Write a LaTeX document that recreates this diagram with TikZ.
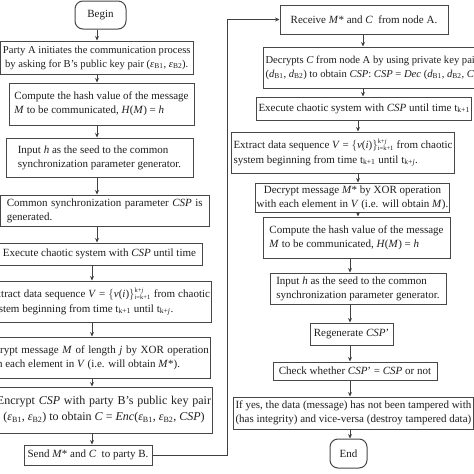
\documentclass[tikz,border=0pt]{standalone}
\usepackage{fontspec}
\setmainfont{Liberation Serif}
\usetikzlibrary{arrows.meta}
\newcommand{\sbs}[1]{\textsubscript{#1}}
\newcommand{\eps}[1]{\textit{ε}\textsubscript{#1}}
\newcommand{\scr}[1]{\mbox{\fontsize{6.5}{6.5}\selectfont #1}}
\newcommand{\vseq}{$\{\mbox{\textit{v}(\textit{i})}\}_{\scr{i=k+1}}^{\scr{k+\textit{j}}}$}
\begin{document}
\begin{tikzpicture}[x=1pt,y=-1pt,
  every node/.style={font=\fontsize{11}{14}\selectfont, text=black!88},
  box/.style={draw=black!72, line width=1pt, inner xsep=1.5pt, inner ysep=0pt, align=center},
  rbox/.style={box, rounded corners=8pt},
  arr/.style={draw=black!75, line width=0.9pt, -{Stealth[length=4.5pt,width=4pt]}}]
\useasboundingbox (0,0) rectangle (474,474);
\clip (0,0) rectangle (474,474);
\fill[white] (0,0) rectangle (474,474);
% left column
\node[rbox, minimum width=51pt, minimum height=28pt] (begin) at (100.5,15) {Begin};
\node[box, minimum width=192.5pt, minimum height=33pt, font=\fontsize{10.6}{14}\selectfont] (b1) at (96.75,57.5)
  {Party A initiates the communication process\\by asking for B's public key pair (\eps{B1}, \eps{B2}).};
\node[box, minimum width=185pt, minimum height=42pt, align=left] (b2) at (101.5,104)
  {Compute the hash value of the message\\\textit{M} to be communicated, \textit{H}(\textit{M}) = \textit{h}};
\node[box, minimum width=187pt, minimum height=39pt, align=left] (b3) at (99.5,157.5)
  {Input \textit{h} as the seed to the common\\synchronization parameter generator.};
\node[box, minimum width=208.5pt, minimum height=31pt, align=left] (b4) at (104.75,210.5)
  {\makebox[196pt][s]{Common synchronization parameter \textit{CSP} is}\\generated.};
\node[box, minimum width=205pt, minimum height=22pt] (b5) at (99.5,254)
  {Execute chaotic system with \textit{CSP} until time};
\node[box, minimum height=41pt, anchor=east, align=left] (b6) at (212,301.5)
  {\makebox[221pt][s]{Extract data sequence \textit{V} = \vseq{} from chaotic}\\[1pt]system beginning from time t\sbs{k+1} until t\sbs{k+\textit{j}}.};
\node[box, minimum height=41pt, anchor=east, align=left] (b7) at (211,357.5)
  {\makebox[226pt][s]{Encrypt message \textit{M} of length \textit{j} by XOR operation}\\with each element in \textit{V} (i.e. will obtain \textit{M}*).};
\node[box, minimum height=46pt, anchor=east, font=\fontsize{12}{16}\selectfont] (b8) at (213,410)
  {\makebox[214pt][s]{Encrypt \textit{CSP} with party B's public key pair}\\(\eps{B1}, \eps{B2}) to obtain \textit{C} = \textit{Enc}(\eps{B1}, \eps{B2}, \textit{CSP})};
\node[box, minimum width=128pt, minimum height=20pt] (b9) at (88,455)
  {Send \textit{M}* and \textit{C}\ \ to party B.};
% right column
\node[box, minimum width=168pt, minimum height=29pt] (recv) at (364,19.5)
  {Receive \textit{M}* and \textit{C}\ \ from node A.};
\node[box, minimum height=41pt, anchor=west, align=left, inner xsep=2pt, font=\fontsize{10.6}{14}\selectfont] (dec) at (263,67.5)
  {Decrypts \textit{C} from node A by using private key pair\\(\textit{d}\sbs{B1}, \textit{d}\sbs{B2}) to obtain \textit{CSP}: \textit{CSP} = \textit{Dec} (\textit{d}\sbs{B1}, \textit{d}\sbs{B2}, \textit{C})};
\node[box, minimum height=23pt, anchor=west, inner xsep=2pt] (exec2) at (256,108.5)
  {Execute chaotic system with \textit{CSP} until time t\sbs{k+1}};
\node[box, minimum height=41pt, anchor=west, align=left, inner xsep=2pt] (ext2) at (231,152.5)
  {Extract data sequence \textit{V} = \vseq{} from chaotic\\[1pt]system beginning from time t\sbs{k+1} until t\sbs{k+\textit{j}}.};
\node[box, minimum width=187pt, minimum height=29pt] (decm) at (352.5,197.5)
  {Decrypt message \textit{M}* by XOR operation\\with each element in \textit{V} (i.e. will obtain \textit{M}).};
\node[box, minimum width=187pt, minimum height=41pt, align=left] (hash2) at (356.5,237.5)
  {Compute the hash value of the message\\\textit{M} to be communicated, \textit{H}(\textit{M}) = \textit{h}};
\node[box, minimum width=176pt, minimum height=31pt, align=left] (inp2) at (358,288.5)
  {Input \textit{h} as the seed to the common\\synchronization parameter generator.};
\node[box, minimum width=83pt, minimum height=22pt] (regen) at (351.5,334)
  {Regenerate \textit{CSP}'};
\node[box, minimum width=164pt, minimum height=18pt, inner xsep=1pt] (check) at (355,371)
  {Check whether \textit{CSP}' = \textit{CSP} or not};
\node[box, minimum height=32pt, anchor=west, inner xsep=2pt] (ifyes) at (233,413)
  {If yes, the data (message) has not been tampered with\\(has integrity) and vice-versa (destroy tampered data)};
\node[rbox, minimum width=37pt, minimum height=29pt] (end) at (348.5,453.5) {End};
% connector coordinates
\coordinate (lxa) at (97,0);
\coordinate (lxb) at (92,0);
\coordinate (rxa) at (363,0);
\coordinate (rxb) at (358,0);
\coordinate (rxc) at (350,0);
\coordinate (vline) at (227,0);
% left arrows
\draw[arr] (begin.south -| lxa) -- (b1.north -| lxa);
\draw[arr] (b1.south -| lxa) -- (b2.north -| lxa);
\draw[arr] (b2.south -| lxa) -- (b3.north -| lxa);
\draw[arr] (b3.south -| lxa) -- (b4.north -| lxa);
\draw[arr] (b4.south -| lxa) -- (b5.north -| lxa);
\draw[arr] (b5.south -| lxb) -- (b6.north -| lxb);
\draw[arr] (b6.south -| lxb) -- (b7.north -| lxb);
\draw[arr] (b7.south -| lxb) -- (b8.north -| lxb);
\draw[arr] (b8.south -| lxb) -- (b9.north -| lxb);
% cross connector
\draw[arr] (b9.east) -- (b9.east -| vline) -- (recv.west -| vline) -- (recv.west);
% right arrows
\draw[arr] (recv.south -| rxa) -- (dec.north -| rxa);
\draw[arr] (dec.south -| rxa) -- (exec2.north -| rxa);
\draw[arr] (exec2.south -| rxb) -- (ext2.north -| rxb);
\draw[arr] (ext2.south -| rxb) -- (decm.north -| rxb);
\draw[arr] (decm.south -| rxb) -- (hash2.north -| rxb);
\draw[arr] (hash2.south -| rxc) -- (inp2.north -| rxc);
\draw[arr] (inp2.south -| rxc) -- (regen.north -| rxc);
\draw[arr] (regen.south -| rxc) -- (check.north -| rxc);
\draw[arr] (check.south -| rxc) -- (ifyes.north -| rxc);
\draw[arr] (ifyes.south -| rxc) -- (end.north -| rxc);
\end{tikzpicture}
\end{document}
